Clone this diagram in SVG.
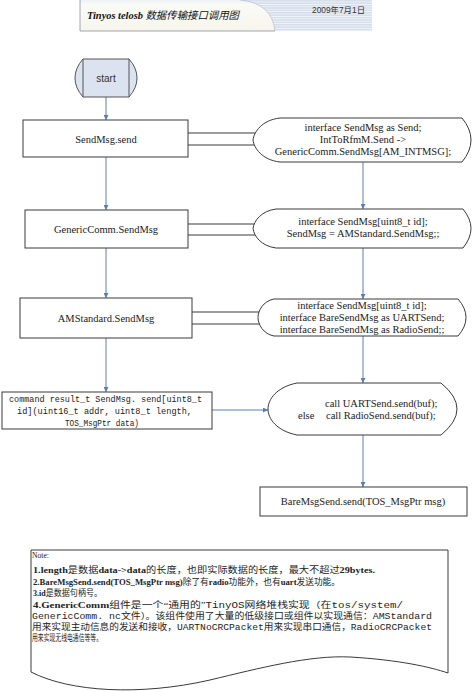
<svg xmlns="http://www.w3.org/2000/svg" width="474" height="692" viewBox="0 0 474 692">
<style>
.node{fill:#fff;stroke:#3a3a3a;stroke-width:1}
.lbl{font-family:"Liberation Serif","Noto Sans CJK SC",serif;font-size:10.5px;fill:#222;text-anchor:middle}
.lft{text-anchor:start}
.mono{font-family:"Liberation Mono","Noto Sans CJK SC",monospace;font-size:9.5px;fill:#222;text-anchor:middle}
.conn{stroke:#5b7fb5;stroke-width:1;fill:none}
.dbl{stroke:#3a3a3a;stroke-width:1;fill:none}
.note{font-family:"Liberation Serif","Noto Sans CJK SC",serif;font-size:8.6px;fill:#222}
.b{font-weight:bold}
.m{font-family:"Liberation Mono","Noto Sans CJK SC",monospace}
</style>
<defs>
<marker id="arr" viewBox="0 0 6 6" refX="6" refY="3" markerWidth="5" markerHeight="5" orient="auto" markerUnits="userSpaceOnUse">
<path d="M0,0 L6,3 L0,6 Z" fill="#5b7fb5"/>
</marker>
<pattern id="stripes" width="4" height="2.4" patternUnits="userSpaceOnUse">
<rect width="4" height="2.4" fill="#d6dfeb"/>
<rect y="1.6" width="4" height="0.8" fill="#f2f5f9"/>
</pattern>
<linearGradient id="cream" x1="0" y1="0" x2="0" y2="1">
<stop offset="0" stop-color="#eef2f7"/>
<stop offset="0.15" stop-color="#fbfbf6"/>
<stop offset="1" stop-color="#f6f6ee"/>
</linearGradient>
</defs>
<rect width="474" height="692" fill="#fff"/>

<g id="header">
<rect x="80" y="0" width="292" height="31" fill="url(#stripes)"/>
<path d="M80,0 L240,0 Q272,3 275,31 L80,31 Z" fill="url(#cream)"/>
<path d="M240,0 Q272,3 275,31" fill="none" stroke="#b8c3d3" stroke-width="0.8"/>
<path d="M80,0 L80,31 L275,31" fill="none" stroke="#8a8f99" stroke-width="0.8"/>
<text x="87" y="19" font-family="Liberation Serif,'Noto Sans CJK SC',serif" font-style="italic" font-size="10.5" fill="#111" textLength="152" lengthAdjust="spacingAndGlyphs"><tspan font-weight="bold">Tinyos telosb </tspan><tspan>数据传输接口调用图</tspan></text>
<text x="312" y="13" font-family="Liberation Sans,'Noto Sans CJK SC',sans-serif" font-size="8.5" fill="#333" textLength="53" lengthAdjust="spacingAndGlyphs">2009年7月1日</text>
</g>

<g id="connectors">
<line class="conn" x1="106" y1="97" x2="106" y2="120" marker-end="url(#arr)"/>
<line class="conn" x1="106" y1="157" x2="106" y2="210" marker-end="url(#arr)"/>
<line class="conn" x1="106" y1="248" x2="106" y2="298" marker-end="url(#arr)"/>
<line class="conn" x1="106" y1="338" x2="106" y2="392" marker-end="url(#arr)"/>
<line class="conn" x1="363" y1="162" x2="363" y2="209" marker-end="url(#arr)"/>
<line class="conn" x1="363" y1="248" x2="363" y2="299" marker-end="url(#arr)"/>
<line class="conn" x1="363" y1="336" x2="363" y2="383" marker-end="url(#arr)"/>
<line class="conn" x1="363" y1="435" x2="363" y2="487" marker-end="url(#arr)"/>
<line class="conn" x1="212" y1="410" x2="268" y2="410" marker-end="url(#arr)"/>
<path class="dbl" d="M188,133 H262 M188,145 H262"/>
<path class="dbl" d="M188,224 H262 M188,235 H262"/>
<path class="dbl" d="M189,312 H265 M189,324 H265"/>
</g>

<g id="start">
<path d="M83,59 L129,59 Q137,68 137,78 Q137,88 129,97 L83,97 Q75,88 75,78 Q75,68 83,59 Z" fill="#dce3f0" stroke="#555" stroke-width="1"/>
<path d="M83,59 V97 M129,59 V97" stroke="#555" stroke-width="1"/>
<text x="106" y="81.5" font-family="Liberation Sans,sans-serif" font-size="10" fill="#333" text-anchor="middle">start</text>
</g>

<g id="sendmsg-send">
<rect class="node" x="23" y="120" width="165" height="37"/>
<text class="lbl" x="106" y="142.5">SendMsg.send</text>
</g>

<g id="wire1">
<path class="node" d="M280,118 L462,118 Q471,129 471,140 Q471,151 462,162 L280,162 C262,160 254,148 253,140 C254,132 262,120 280,118 Z"/>
<text class="lbl" x="363" y="131">interface SendMsg as Send;</text>
<text class="lbl" x="363" y="143">IntToRfmM.Send -&gt;</text>
<text class="lbl" x="363" y="155">GenericComm.SendMsg[AM_INTMSG];</text>
</g>

<g id="genericcomm">
<rect class="node" x="25" y="210" width="163" height="38"/>
<text class="lbl" x="106" y="232.5">GenericComm.SendMsg</text>
</g>

<g id="wire2">
<path class="node" d="M276,209 L463,209 Q471,219 471,228.5 Q471,238 463,248 L276,248 C261,246 254,236 253,228.5 C254,221 261,211 276,209 Z"/>
<text class="lbl" x="363" y="225">interface SendMsg[uint8_t id];</text>
<text class="lbl" x="363" y="237">SendMsg = AMStandard.SendMsg;;</text>
</g>

<g id="amstandard">
<rect class="node" x="20" y="298" width="172" height="40"/>
<text class="lbl" x="106" y="322">AMStandard.SendMsg</text>
</g>

<g id="wire3">
<path class="node" d="M274,299 L458,299 Q466,308 466,317.5 Q466,327 458,336 L274,336 C263,334 258,324 258,317.5 C258,311 263,301 274,299 Z"/>
<text class="lbl" x="362" y="308.5" font-size="10.3">interface SendMsg[uint8_t id];</text>
<text class="lbl" x="362" y="320.5" font-size="10.3">interface BareSendMsg as UARTSend;</text>
<text class="lbl" x="362" y="332.5" font-size="10.3">interface BareSendMsg as RadioSend;;</text>
</g>

<g id="command">
<rect class="node" x="2" y="392" width="210" height="37"/>
<text class="mono" x="105.5" y="401.5" textLength="193" lengthAdjust="spacingAndGlyphs">command result_t SendMsg. send[uint8_t</text>
<text class="mono" x="104.5" y="413.5" textLength="175" lengthAdjust="spacingAndGlyphs">id](uint16_t addr, uint8_t length,</text>
<text class="mono" x="102" y="425.5" textLength="74" lengthAdjust="spacingAndGlyphs">TOS_MsgPtr data)</text>
</g>

<g id="dispatch">
<path class="node" d="M297,383 L441,383 Q457,396 457,409 Q457,422 441,435 L297,435 C277,431 268,419 268,409 C268,399 277,387 297,383 Z"/>
<text class="lbl lft" x="325" y="406.5" font-size="10">call UARTSend.send(buf);</text>
<text class="lbl lft" x="298" y="418.5" font-size="10">else</text>
<text class="lbl lft" x="326" y="418.5" font-size="10">call RadioSend.send(buf);</text>
</g>

<g id="baremsgsend">
<rect class="node" x="260" y="487" width="207" height="29"/>
<text class="lbl" x="363" y="505">BareMsgSend.send(TOS_MsgPtr msg)</text>
</g>

<g id="note">
<path d="M31,550 L448,550 L448,673 C430,667 400,660 350,657 C310,655 260,668 210,680 C140,696 70,692 31,672 Z" fill="#fff" stroke="#3a3a3a" stroke-width="1"/>
<text class="note" x="32" y="558" textLength="17" lengthAdjust="spacingAndGlyphs">Note:</text>
<text class="note" x="33" y="573" textLength="342" lengthAdjust="spacingAndGlyphs"><tspan class="b">1.length</tspan>是数据<tspan class="b">data-&gt;data</tspan>的长度，也即实际数据的长度，最大不超过<tspan class="b">29bytes.</tspan></text>
<text class="note" x="33" y="585" textLength="307" lengthAdjust="spacingAndGlyphs"><tspan class="b">2.BareMsgSend.send(TOS_MsgPtr msg)</tspan>除了有<tspan class="b">radio</tspan>功能外，也有<tspan class="b">uart</tspan>发送功能。</text>
<text class="note" x="33" y="596" textLength="69" lengthAdjust="spacingAndGlyphs"><tspan class="b">3.id</tspan>是数据句柄号。</text>
<text class="note" x="33" y="608" textLength="370" lengthAdjust="spacingAndGlyphs"><tspan class="b">4.GenericComm</tspan>组件是一个“通用的”<tspan class="m">TinyOS</tspan>网络堆栈实现（在<tspan class="m">tos/system/</tspan></text>
<text class="note" x="32" y="619" textLength="400" lengthAdjust="spacingAndGlyphs"><tspan class="m">GenericComm. nc</tspan>文件）。该组件使用了大量的低级接口或组件以实现通信：<tspan class="m">AMStandard</tspan></text>
<text class="note" x="32" y="630" textLength="400" lengthAdjust="spacingAndGlyphs">用来实现主动信息的发送和接收，<tspan class="m">UARTNoCRCPacket</tspan>用来实现串口通信，<tspan class="m">RadioCRCPacket</tspan></text>
<text class="note" x="32" y="641" textLength="70" lengthAdjust="spacingAndGlyphs">用来实现无线电通信等等。</text>
</g>
</svg>
